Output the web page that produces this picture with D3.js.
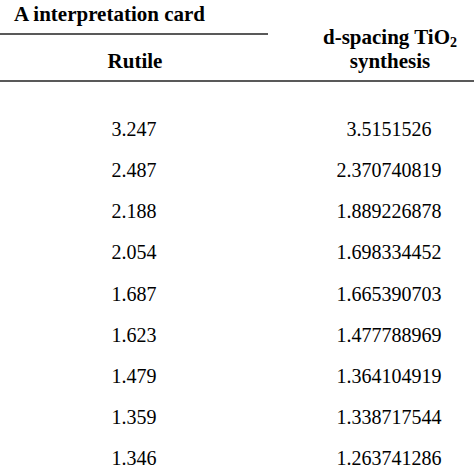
<!DOCTYPE html>
<html><head><meta charset="utf-8">
<script src="https://cdn.jsdelivr.net/npm/d3@7"></script>
<style>body{margin:0;background:#fff}</style>
</head><body>
<script>
var rutile = ["3.247", "2.487", "2.188", "2.054", "1.687", "1.623", "1.479", "1.359", "1.346"];
var synthesis = ["3.5151526", "2.370740819", "1.889226878", "1.698334452", "1.665390703",
                 "1.477788969", "1.364104919", "1.338717544", "1.263741286"];

var svg = d3.select("body").append("svg").attr("width", 474).attr("height", 474);
var font = "Liberation Serif, Times New Roman, serif";

var y = d3.scalePoint().domain(d3.range(rutile.length)).range([129, 458]);

svg.append("line").attr("x1", 0).attr("x2", 268).attr("y1", 34).attr("y2", 34)
  .attr("stroke", "#222").attr("stroke-width", 1.4);
svg.append("line").attr("x1", 0).attr("x2", 474).attr("y1", 81).attr("y2", 81)
  .attr("stroke", "#222").attr("stroke-width", 1.4);

svg.append("text").attr("x", 205).attr("y", 21).attr("text-anchor", "end")
  .style("font", "bold 21px " + font).text("A interpretation card");
svg.append("text").attr("x", 135).attr("y", 68).attr("text-anchor", "middle")
  .style("font", "bold 21px " + font).text("Rutile");
var h = svg.append("text").attr("x", 390).attr("y", 44).attr("text-anchor", "middle")
  .style("font", "bold 21px " + font);
h.append("tspan").text("d-spacing TiO");
h.append("tspan").attr("font-size", 14).attr("dy", 3).text("2");
svg.append("text").attr("x", 390).attr("y", 68).attr("text-anchor", "middle")
  .style("font", "bold 21px " + font).text("synthesis");

svg.selectAll(".r").data(rutile).enter().append("text")
  .attr("x", 134).attr("y", function(d, i) { return y(i) + 7; })
  .attr("text-anchor", "middle").style("font", "20px " + font).text(function(d) { return d; });
svg.selectAll(".s").data(synthesis).enter().append("text")
  .attr("x", 389).attr("y", function(d, i) { return y(i) + 7; })
  .attr("text-anchor", "middle").style("font", "20px " + font).text(function(d) { return d; });
</script>
</body></html>
